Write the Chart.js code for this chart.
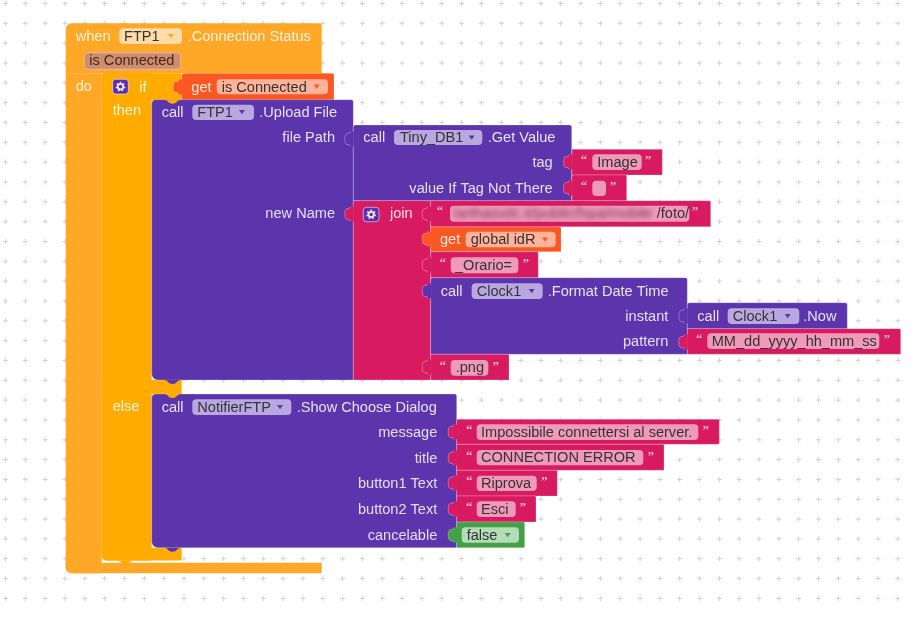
<!DOCTYPE html>
<html><head><meta charset="utf-8">
<style>html,body{margin:0;padding:0;background:#fff}canvas{display:block;filter:blur(0.55px)}</style>
<script src="https://cdn.jsdelivr.net/npm/chart.js@4"></script>
</head><body><canvas id="c" width="915" height="618"></canvas>
<script>
// Background dot lattice
const gridX=[5.5,25.3,45.2,65,84.8,104.7,124.5,144.3,164.1,184,203.8,223.6,243.5,263.3,283.1,303,322.8,342.6,362.4,382.3,402.1,421.9,441.8,461.6,481.4,501.3,521.1,540.9,560.7,580.6,600.4,620.2,640.1,659.9,679.7,699.6,719.4,739.2,759,778.9,798.7,818.5,838.4,858.2,878,897.9];
const gridY=[3.5,23.3,43.2,63,82.8,102.7,122.5,142.3,162.1,182,201.8,221.6,241.5,261.3,281.1,301,320.8,340.6,360.4,380.3,400.1,419.9,439.8,459.6,479.4,499.3,519.1,538.9,558.7,578.6,598.4];
// Blocks
const blockFamily=['when','when','when','if','if','if','if','get','call','call','text','text','text','get','text','text','call','call','text','text','call','text','text','text','text','green'];
const blockLeft=[65.7,65.7,65.7,101.7,101.7,101.7,101.7,181.7,151.7,353.3,572,572,353.3,430.7,430.7,430.7,430.7,687.3,687.3,430.7,151.7,456.7,456.7,456.7,456.7,456.7];
const blockRight=[321.7,101.7,321.7,151.7,181.7,181.7,181.7,334,353.3,571.7,662.3,626.7,430.7,561,710.7,538.3,687.3,847.3,900.7,509,456.7,719.3,664,557.3,536,524.7];
const blockTop=[23.3,73.3,562.7,73.3,73.3,380,547.7,73.3,99.7,125,149.3,175,200.7,226.7,200.7,251.7,277.7,302.7,328.7,354.3,394,419.3,444.3,470.3,496,522];
const blockBottom=[73.3,573.3,573.3,560.5,100,394,560.5,100,380,200.7,175,200.7,380,251.7,226.7,277.7,354.3,328.7,354.3,380,547.7,444.3,470.3,496,522,547.7];
const blockCornerTop=[6,0,0,3,3,0,0,2,4,2,1,1,1,1,1,1,2,2,1,1,4,1,1,1,1,1];
const blockCornerBottom=[0,6,6,5,0,0,5,0,6,0,0,0,0,0,0,0,0,0,0,0,6,0,0,0,0,0];
// Connector tabs
const tabFamily=['get','call','text','text','text','text','get','text','call','call','text','text','text','text','text','text','green'];
const tabX=[181.7,353.3,572,572,353.3,430.7,430.7,430.7,430.7,687.3,687.3,430.7,456.7,456.7,456.7,456.7,456.7];
const tabY=[80,132,155,181,207,207,232,258,284,309,335,360,425,451,476,502,528];
// Stack bumps
const bumpFamily=['when','if','if','call','call','if'];
const bumpX=[115,165,165,165,165,118];
const bumpY=[73.3,99.7,394,380,547.7,560.5];
// Value pills
const pillFamily=['when','var','get','call','call','text','text','text','get','text','call','call','text','text','call','text','text','text','text','green'];
const pillLeft=[119.3,84.3,216.7,192.3,394,592.3,592.3,450,465.7,450.7,471.7,727.7,707.3,450.7,192.3,476.7,476.7,476.7,476.7,461.7];
const pillRight=[182,180.7,328,254,482.3,641.7,606,689.3,555.7,518.3,542.7,799.3,879.3,488.3,291.3,698.3,643.3,536.7,515.7,519];
const pillTop=[28.3,52.7,79.3,104.7,130,154.3,180.7,205.7,231.7,257.3,283.3,308.3,333.3,360,399.3,424.3,450,475.7,501.3,527.3];
const pillBottom=[44,69.3,94.3,120,145,170,196,221.7,247.3,273.3,299,324,349,375.7,415,440,465.3,491,517,542.7];
const pillWords=['FTP1','is Connected','is Connected','FTP1','Tiny_DB1','Image','','/foto/','global idR','_Orario=','Clock1','Clock1','MM_dd_yyyy_hh_mm_ss','.png','NotifierFTP','Impossibile connettersi al server.','CONNECTION ERROR','Riprova','Esci','false'];
const pillWordX=[124,89.3,221.7,197.3,400,597.3,597,656.7,470.7,455,476.7,732.7,711.7,455.7,197.3,481,481,481,481,466.7];
// Dropdown arrows
const arrowFamily=['when','get','call','call','get','call','call','call','green'];
const arrowX=[171,316.7,242,471.7,545,531.7,787.7,280,507.7];
const arrowY=[36,86.5,112,137.5,239.5,291,316,407,535];
// Light captions
const wordsLight=['when','.Connection Status','do','if','then','get','call','.Upload File','call','.Get Value','join','get','call','.Format Date Time','call','.Now','else','call','.Show Choose Dialog'];
const wordsLightX=[75.7,187.7,75.7,139.3,112.7,191.3,161.7,259.3,363.3,487.7,390,440,440.7,547.7,697.3,803.3,112.7,161.7,296.7];
const wordsLightY=[41,41,91,91.5,115,91.5,117,117,142,142,218,244,295.5,295.5,320.5,320.5,411,412,412];
// Right-aligned socket captions
const wordsRight=['file Path','new Name','tag','value If Tag Not There','instant','pattern','message','title','button1 Text','button2 Text','cancelable'];
const wordsRightX=[335,335,552.7,552.7,668.3,668.3,437.3,437.3,437.3,437.3,437.3];
const wordsRightY=[142,218,167,192.5,320.5,346,437,462.5,488,513.5,539.5];
// String quote marks
const quoteX=[584,648,584,613,440,695,442.7,525.7,699.3,886.7,442.7,495.7,469.3,705.7,469.3,650.7,469.3,544.3,469.3,522.7];
const quoteY=[164,164,190,190,215,215,266.5,266.5,343,343,369.5,369.5,434,434,459.5,459.5,485,485,510.5,510.5];
const quoteGlyph=['“','”','“','”','“','”','“','”','“','”','“','”','“','”','“','”','“','”','“','”'];
// Mutator icons
const gearLeft=[112.7,363.3],gearRight=[128.3,379],gearTop=[79.3,207.3],gearBottom=[94,221.7];
// The part of the path that is obscured in the picture
const smudgeWords=['/arthasvdc.it/public/fspa/mobile'];const smudgeX=[453];const smudgeY=[218];

const FILL={when:'#ffa726',if:'#ffab00',get:'#fb5722',call:'#5c35ad',text:'#d81b60',green:'#43a047',var:'#d08d6e'};
const PILL={when:'#ffdba8',var:'#d08d6e',get:'#ffb39b',call:'#b9a8e0',text:'#f09ab9',green:'#b4dcb6'};
const FONT='15.5px "Liberation Sans", Arial, sans-serif';
function writeText(c,s,x,y,align,color){
  c.save();c.translate(x,y);c.scale(.94,1);c.font=FONT;c.textAlign=align;c.textBaseline='alphabetic';c.fillStyle=color;c.fillText(s,0,0);c.restore();
}

class MarkController extends Chart.ScatterController{
  static id='mark';
  static defaults=Chart.ScatterController.defaults;
  draw(){
    const ds=this.getDataset(),meta=this.getMeta(),ctx=this.chart.ctx,X=meta.xScale,Y=meta.yScale;
    ctx.save();
    ds.data.forEach(d=>{
      const x=X.getPixelForValue(d.x),y=Y.getPixelForValue(d.y);
      const x2=d.x2===undefined?x:X.getPixelForValue(d.x2),y2=d.y2===undefined?y:Y.getPixelForValue(d.y2);
      PAINT[ds.shape](ctx,x,y,x2,y2,d,X);
    });
    ctx.restore();
  }
}
const PAINT={
  block(c,x,y,x2,y2,d){
    c.beginPath();c.roundRect(x,y,x2-x,y2-y,[d.rt,Math.min(d.rt,2),Math.min(d.rb,1),d.rb]);
    c.fillStyle=FILL[d.f];c.fill();
    if(d.f!=='when'&&d.f!=='if'){c.strokeStyle='rgba(255,255,255,.22)';c.lineWidth=1;c.stroke();}
  },
  tab(c,x,y,x2,y2,d){
    c.beginPath();c.moveTo(x+.5,y-.5);c.lineTo(x-3,y-.5);c.quadraticCurveTo(x-3,y+2,x-6,y+1.5);
    c.quadraticCurveTo(x-8.5,y+1.5,x-8.5,y+7);c.quadraticCurveTo(x-8.5,y+12.5,x-6,y+12.5);
    c.quadraticCurveTo(x-3,y+12,x-3,y+14.5);c.lineTo(x+.5,y+14.5);c.closePath();
    c.fillStyle=FILL[d.f];c.fill();
    c.beginPath();c.moveTo(x-3,y-.5);c.quadraticCurveTo(x-3,y+2,x-6,y+1.5);c.quadraticCurveTo(x-8.5,y+1.5,x-8.5,y+7);
    c.quadraticCurveTo(x-8.5,y+12.5,x-6,y+12.5);c.quadraticCurveTo(x-3,y+12,x-3,y+14.5);
    c.strokeStyle='rgba(255,255,255,.3)';c.lineWidth=1;c.stroke();
  },
  bump(c,x,y,x2,y2,d){
    c.beginPath();c.moveTo(x,y);c.lineTo(x+15,y);c.quadraticCurveTo(x+12,y+1,x+11,y+3);c.quadraticCurveTo(x+7.5,y+5,x+4,y+3);c.quadraticCurveTo(x+3,y+1,x,y);c.closePath();
    c.fillStyle=FILL[d.f];c.fill();
  },
  pill(c,x,y,x2,y2,d,X){
    c.beginPath();c.roundRect(x,y,x2-x,y2-y,4);c.fillStyle=PILL[d.f];c.fill();
    if(d.f==='var'){c.strokeStyle='#e8b8a0';c.lineWidth=1;c.stroke();}
    if(d.s)writeText(c,d.s,X.getPixelForValue(d.tx),y+12.4,'left',d.f==='var'?'#3f2a1e':'#333333');
  },
  arrow(c,x,y,x2,y2,d){
    c.beginPath();c.moveTo(x-3,y-2);c.lineTo(x+3,y-2);c.lineTo(x,y+2.2);c.closePath();c.fillStyle=FILL[d.f];c.fill();
  },
  word(c,x,y,x2,y2,d){writeText(c,d.s,x,y,d.a,d.f);},
  quote(c,x,y,x2,y2,d){
    c.font='bold 13px "Liberation Serif", serif';c.textBaseline='alphabetic';c.textAlign='center';c.fillStyle='#f6bdd2';c.fillText(d.s,x,y);
  },
  smudge(c,x,y,x2,y2,d){
    c.save();c.filter='blur(2.4px)';writeText(c,d.s,x,y,'left','#7a3a58');c.restore();
  },
  gear(c,x,y,x2,y2,d){
    c.beginPath();c.roundRect(x,y,x2-x,y2-y,3);c.fillStyle='#5c2db5';c.fill();
    c.strokeStyle='rgba(255,255,255,.55)';c.lineWidth=1;c.stroke();
    const cx=(x+x2)/2,cy=(y+y2)/2;
    c.strokeStyle='#f4ecd8';c.lineWidth=1.8;c.beginPath();c.arc(cx,cy,2.7,0,7);c.stroke();
    c.lineWidth=1.4;c.setLineDash([1.6,2.1]);c.beginPath();c.arc(cx,cy,4.2,0,7);c.stroke();c.setLineDash([]);
  }
};
Chart.register(MarkController);

const dots=[];gridX.forEach(x=>gridY.forEach(y=>dots.push({x,y})));
const blocks=blockFamily.map((f,i)=>({x:blockLeft[i],y:blockTop[i],x2:blockRight[i],y2:blockBottom[i],f,rt:blockCornerTop[i],rb:blockCornerBottom[i]}));
const tabs=tabFamily.map((f,i)=>({x:tabX[i],y:tabY[i],f}));
const bumps=bumpFamily.map((f,i)=>({x:bumpX[i],y:bumpY[i],f}));
const pills=pillFamily.map((f,i)=>({x:pillLeft[i],y:pillTop[i],x2:pillRight[i],y2:pillBottom[i],f,s:pillWords[i],tx:pillWordX[i]}));
const arrows=arrowFamily.map((f,i)=>({x:arrowX[i],y:arrowY[i],f}));
const light=wordsLight.map((s,i)=>({x:wordsLightX[i],y:wordsLightY[i],s,a:'left',f:'rgba(255,255,255,.86)'}));
const right=wordsRight.map((s,i)=>({x:wordsRightX[i],y:wordsRightY[i],s,a:'right',f:'rgba(255,255,255,.84)'}));
const quotes=quoteX.map((x,i)=>({x,y:quoteY[i],s:quoteGlyph[i]}));
const gears=gearLeft.map((x,i)=>({x,y:gearTop[i],x2:gearRight[i],y2:gearBottom[i]}));
const smudge=smudgeWords.map((s,i)=>({x:smudgeX[i],y:smudgeY[i],s}));

const layer=(shape,data,order)=>({type:'mark',shape,data,order,pointRadius:0});
new Chart(document.getElementById('c'),{
  type:'scatter',
  data:{datasets:[
    {label:'lattice',data:dots,order:99,pointStyle:'cross',pointRadius:2.6,pointBorderColor:'#d2d2d2',pointBorderWidth:1,pointBackgroundColor:'#d2d2d2'},
    layer('block',blocks,90),layer('tab',tabs,80),layer('bump',bumps,70),layer('pill',pills,60),
    layer('smudge',smudge,55),layer('arrow',arrows,50),layer('gear',gears,40),layer('quote',quotes,30),
    layer('word',light,20),layer('word',right,10)
  ]},
  options:{responsive:false,animation:false,events:[],clip:false,
    layout:{padding:0,autoPadding:false},
    plugins:{legend:{display:false},tooltip:{enabled:false},title:{display:false}},
    scales:{x:{type:'linear',display:false,min:0,max:915},y:{type:'linear',display:false,reverse:true,min:0,max:618}}
  }
});
</script></body></html>
